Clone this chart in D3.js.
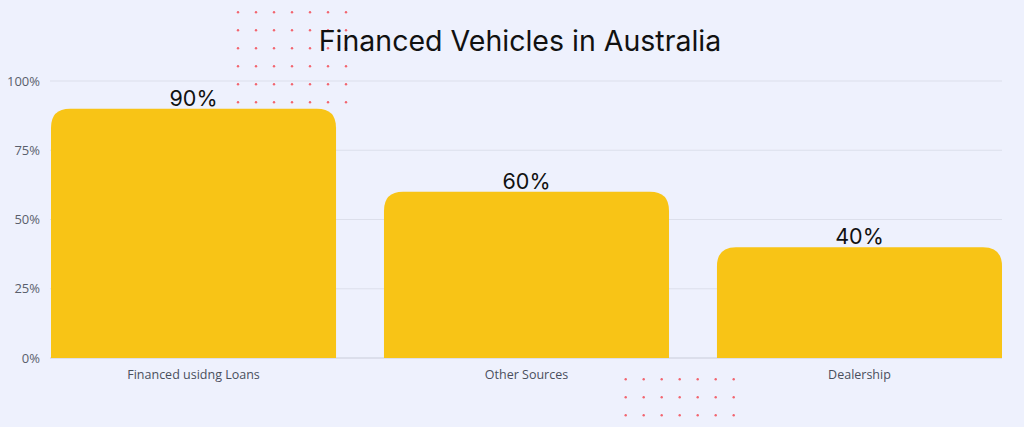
<!DOCTYPE html>
<html>
<head>
<meta charset="utf-8">
<script src="https://cdn.jsdelivr.net/npm/d3@7"></script>
<style>
  html, body { margin: 0; padding: 0; background: #eef1fd; }
  svg { display: block; }
</style>
</head>
<body>
<svg width="1024" height="427"></svg>
<script>
var categories = ["Financed usidng Loans", "Other Sources", "Dealership"];
var values = [90, 60, 40];
var yTicks = [0, 25, 50, 75, 100];

var svg = d3.select("svg"),
    width = +svg.attr("width"),
    height = +svg.attr("height");

svg.append("rect").attr("width", width).attr("height", height).attr("fill", "#eef1fd");

// decorative dot grids
function dots(x0, y0, cols, rows) {
  var g = svg.append("g").attr("fill", "#f2656f");
  d3.range(rows).forEach(function (r) {
    d3.range(cols).forEach(function (c) {
      g.append("circle").attr("cx", x0 + c * 18).attr("cy", y0 + r * 18).attr("r", 1.2);
    });
  });
}
dots(238, 12.3, 7, 6);
dots(625.7, 379.3, 7, 3);

var x = d3.scaleBand()
    .domain(categories)
    .range([51, 1002])
    .paddingInner(0.144)
    .paddingOuter(0);

var y = d3.scaleLinear()
    .domain([0, 100])
    .range([358, 81]);

// gridlines
svg.append("g").selectAll("line")
  .data(yTicks)
  .enter().append("line")
  .attr("x1", 50).attr("x2", 1002)
  .attr("y1", function (d) { return y(d); })
  .attr("y2", function (d) { return y(d); })
  .attr("stroke", function (d) { return d === 0 ? "#c9ccd9" : "#dcdfeb"; })
  .attr("stroke-width", 1);

// y axis labels
svg.append("g").selectAll("text")
  .data(yTicks)
  .enter().append("text")
  .attr("x", 40)
  .attr("y", function (d) { return y(d); })
  .attr("dy", "0.35em")
  .attr("text-anchor", "end")
  .attr("font-family", "Open Sans, sans-serif")
  .attr("font-size", 13)
  .attr("fill", "#5a5f6c")
  .text(function (d) { return d + "%"; });

// bars with rounded top corners
var r = 19;
function barPath(d, i) {
  var x0 = x(categories[i]), w = x.bandwidth(), top = y(d), bot = y(0);
  return "M" + x0 + "," + bot +
    "V" + (top + r) +
    "Q" + x0 + "," + top + " " + (x0 + r) + "," + top +
    "H" + (x0 + w - r) +
    "Q" + (x0 + w) + "," + top + " " + (x0 + w) + "," + (top + r) +
    "V" + bot + "Z";
}

svg.append("g").selectAll("path")
  .data(values)
  .enter().append("path")
  .attr("d", barPath)
  .attr("fill", "#f8c416");

// value labels
svg.append("g").selectAll("text")
  .data(values)
  .enter().append("text")
  .attr("x", function (d, i) { return x(categories[i]) + x.bandwidth() / 2; })
  .attr("y", function (d) { return y(d) - 3; })
  .attr("text-anchor", "middle")
  .attr("font-family", "Inter, sans-serif")
  .attr("font-size", 21.5)
  .attr("fill", "#111")
  .text(function (d) { return d + "%"; });

// category labels
svg.append("g").selectAll("text")
  .data(categories)
  .enter().append("text")
  .attr("x", function (d) { return x(d) + x.bandwidth() / 2; })
  .attr("y", 379)
  .attr("text-anchor", "middle")
  .attr("font-family", "Open Sans, sans-serif")
  .attr("font-size", 12.5)
  .attr("fill", "#4a4f5c")
  .text(function (d) { return d; });

// title
svg.append("text")
  .attr("x", 520)
  .attr("y", 51)
  .attr("text-anchor", "middle")
  .attr("font-family", "Inter, sans-serif")
  .attr("font-size", 28.5)
  .attr("fill", "#111")
  .text("Financed Vehicles in Australia");
</script>
</body>
</html>
